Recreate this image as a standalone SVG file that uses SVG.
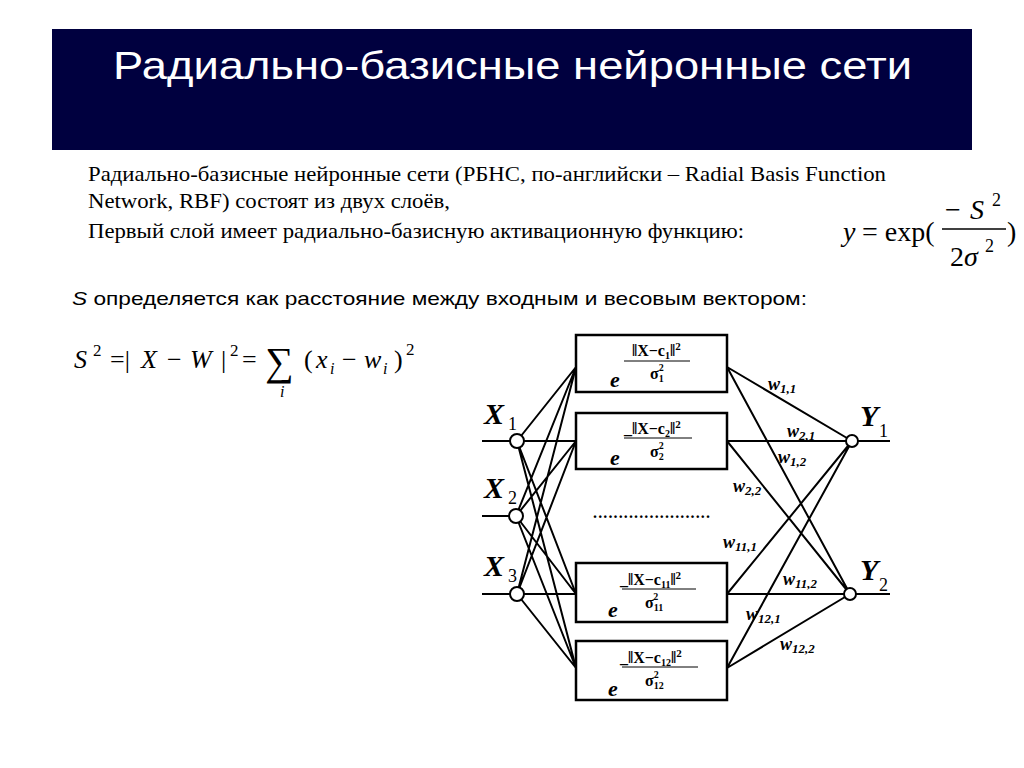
<svg xmlns="http://www.w3.org/2000/svg" width="1024" height="768" viewBox="0 0 1024 768">
<style>
.t{font-family:"Liberation Serif",serif;font-size:21px;fill:#000}
.m{font-family:"Liberation Serif",serif;fill:#000}
.w{font-family:"Liberation Serif",serif;font-style:italic;font-weight:bold;font-size:18px}
.b{fill:#fff;stroke:#000;stroke-width:2.5}
.c{stroke:#000;stroke-width:2;fill:none}
.n{fill:#fff;stroke:#000;stroke-width:2}
.f{font-family:"Liberation Serif",serif;font-weight:bold;font-size:16px}
.e{font-family:"Liberation Serif",serif;font-weight:bold;font-style:italic;font-size:22px}
.io{font-family:"Liberation Serif",serif;font-style:italic;font-weight:bold;font-size:30px}
.sub{font-family:"Liberation Serif",serif;font-size:18px}
</style>
<rect width="1024" height="768" fill="#fff"/>
<rect x="52" y="29" width="920" height="121" fill="#00003f"/>
<text x="113" y="79" font-family="Liberation Sans,sans-serif" font-size="39" fill="#fff" textLength="799" lengthAdjust="spacingAndGlyphs">Радиально-базисные нейронные сети</text>
<text class="t" x="88" y="181" textLength="798" lengthAdjust="spacingAndGlyphs">Радиально-базисные нейронные сети (РБНС, по-английски – Radial Basis Function</text>
<text class="t" x="88" y="208" textLength="362" lengthAdjust="spacingAndGlyphs">Network, RBF) состоят из двух слоёв,</text>
<text class="t" x="88" y="238" textLength="656" lengthAdjust="spacingAndGlyphs">Первый слой имеет радиально-базисную активационную функцию:</text>
<g class="m" font-size="28">
<text x="843" y="241" font-style="italic">y</text>
<text x="862" y="241">= exp(</text>
<text x="945" y="219">−</text>
<text x="970" y="219" font-style="italic">S</text>
<text x="992" y="206" font-size="18">2</text>
<line x1="942" y1="229" x2="1006" y2="229" stroke="#000" stroke-width="1.3"/>
<text x="950" y="266">2</text>
<text x="964" y="266" font-style="italic">σ</text>
<text x="985" y="252" font-size="18">2</text>
<text x="1007" y="241">)</text>
</g>
<text x="72" y="305" font-family="Liberation Sans,sans-serif" font-size="19" textLength="735" lengthAdjust="spacingAndGlyphs"><tspan font-style="italic">S</tspan> определяется как расстояние между входным и весовым вектором:</text>
<g class="m" font-size="26">
<text x="74" y="368" font-style="italic">S</text>
<text x="93" y="356" font-size="17">2</text>
<text x="110" y="368">=|</text>
<text x="141" y="368" font-style="italic">X</text>
<text x="167" y="368">−</text>
<text x="190" y="368" font-style="italic">W</text>
<text x="221" y="368">|</text>
<text x="230" y="356" font-size="17">2</text>
<text x="242" y="368">=</text>
<text x="265" y="375" font-size="40">∑</text>
<text x="280" y="397" font-size="16" font-style="italic">i</text>
<text x="304" y="368">(</text>
<text x="316" y="368" font-style="italic">x</text>
<text x="330" y="374" font-size="16" font-style="italic">i</text>
<text x="342" y="368">−</text>
<text x="364" y="368" font-style="italic">w</text>
<text x="383" y="374" font-size="16" font-style="italic">i</text>
<text x="394" y="368">)</text>
<text x="406" y="355" font-size="17">2</text>
</g>
<g id="connectors" class="c">
<line x1="482" y1="441" x2="576" y2="441"/>
<line x1="482" y1="516" x2="516" y2="516"/>
<line x1="482" y1="594" x2="576" y2="594"/>
<line x1="727" y1="441" x2="890" y2="441"/>
<line x1="727" y1="594" x2="890" y2="594"/>
<path d="M517 441L576 367M517 441L576 594M517 441L576 668M516 516L576 367M516 516L576 441M516 516L576 594M516 516L576 668M517 594L576 367M517 594L576 441M517 594L576 668"/>
<path d="M727 367L852 441M727 367L850 594M727 441L850 594M727 594L852 441M727 668L852 441M727 668L850 594"/>
</g>
<g id="n-x1"><circle class="n" cx="517" cy="441" r="7"/><text class="io" x="484" y="424">X</text><text class="sub" x="508" y="430">1</text></g>
<g id="n-x2"><circle class="n" cx="516" cy="516" r="7"/><text class="io" x="484" y="498">X</text><text class="sub" x="508" y="504">2</text></g>
<g id="n-x3"><circle class="n" cx="517" cy="594" r="7"/><text class="io" x="484" y="576">X</text><text class="sub" x="508" y="582">3</text></g>
<g id="n-y1"><circle class="n" cx="852" cy="441" r="6"/><text class="io" x="860" y="426">Y</text><text class="sub" x="879" y="437">1</text></g>
<g id="n-y2"><circle class="n" cx="850" cy="594" r="6"/><text class="io" x="860" y="580">Y</text><text class="sub" x="879" y="591">2</text></g>
<g id="n-b1"><rect class="b" x="576" y="335" width="151" height="57"/><text class="e" x="610" y="387">e</text><text class="f" x="632" y="356">‖X−c<tspan font-size="10" dy="3">1</tspan><tspan dy="-3">‖</tspan><tspan font-size="11" dy="-6">2</tspan></text><line x1="624" y1="361" x2="690" y2="361" stroke="#000"/><text class="f" x="650" y="379">σ<tspan font-size="10" dy="3">1</tspan><tspan font-size="10" dx="-5" dy="-11">2</tspan></text></g>
<g id="n-b2"><rect class="b" x="576" y="413" width="151" height="56"/><text class="e" x="610" y="465">e</text><text class="f" x="624" y="434">_‖X−c<tspan font-size="10" dy="3">2</tspan><tspan dy="-3">‖</tspan><tspan font-size="11" dy="-6">2</tspan></text><line x1="624" y1="438" x2="692" y2="438" stroke="#000"/><text class="f" x="650" y="457">σ<tspan font-size="10" dy="3">2</tspan><tspan font-size="10" dx="-5" dy="-11">2</tspan></text></g>
<text x="593" y="518" font-family="Liberation Serif,serif" font-size="16" font-weight="bold" textLength="117">.......................</text>
<g id="n-b3"><rect class="b" x="576" y="563" width="151" height="59"/><text class="e" x="608" y="617">e</text><text class="f" x="620" y="585">_‖X−c<tspan font-size="10" dy="3">11</tspan><tspan dy="-3">‖</tspan><tspan font-size="11" dy="-6">2</tspan></text><line x1="622" y1="589" x2="696" y2="589" stroke="#000"/><text class="f" x="645" y="608">σ<tspan font-size="10" dy="3">11</tspan><tspan font-size="10" dx="-10" dy="-11">2</tspan></text></g>
<g id="n-b4"><rect class="b" x="576" y="641" width="151" height="59"/><text class="e" x="608" y="696">e</text><text class="f" x="620" y="663">_‖X−c<tspan font-size="10" dy="3">12</tspan><tspan dy="-3">‖</tspan><tspan font-size="11" dy="-6">2</tspan></text><line x1="622" y1="667" x2="698" y2="667" stroke="#000"/><text class="f" x="645" y="686">σ<tspan font-size="10" dy="3">12</tspan><tspan font-size="10" dx="-10" dy="-11">2</tspan></text></g>
<g>
<text class="w" x="768" y="390">w<tspan font-size="13" dy="3">1,1</tspan></text>
<text class="w" x="787" y="437">w<tspan font-size="13" dy="3">2,1</tspan></text>
<text class="w" x="778" y="463">w<tspan font-size="13" dy="3">1,2</tspan></text>
<text class="w" x="733" y="492">w<tspan font-size="13" dy="3">2,2</tspan></text>
<text class="w" x="723" y="548">w<tspan font-size="13" dy="3">11,1</tspan></text>
<text class="w" x="783" y="585">w<tspan font-size="13" dy="3">11,2</tspan></text>
<text class="w" x="746" y="620">w<tspan font-size="13" dy="3">12,1</tspan></text>
<text class="w" x="780" y="650">w<tspan font-size="13" dy="3">12,2</tspan></text>
</g>
</svg>
